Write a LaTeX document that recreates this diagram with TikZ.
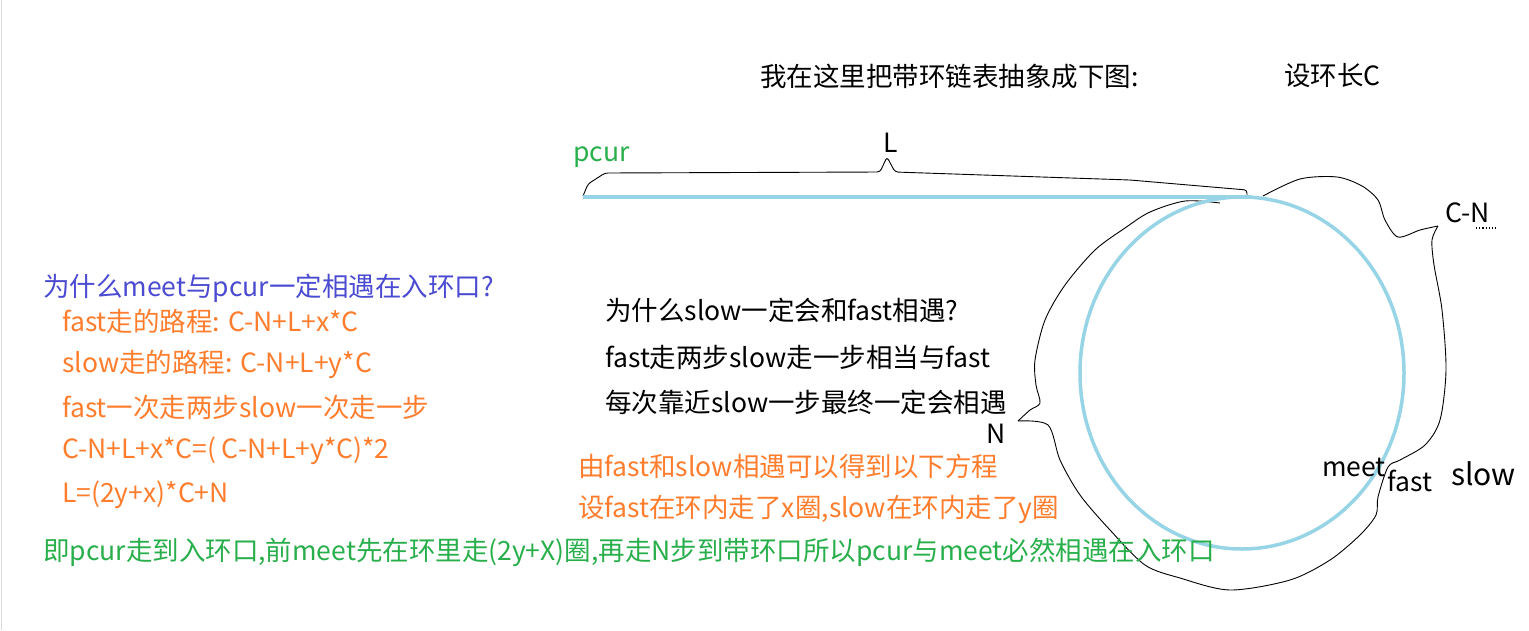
\documentclass[tikz,border=0pt]{standalone}
\usepackage{fontspec}
\setmainfont{Noto Sans CJK SC}
\begin{document}
\begin{tikzpicture}[x=1pt,y=-1pt,
  txt/.style={anchor=west,inner sep=0pt,font=\fontsize{26.5}{30}\selectfont},
  blk/.style={txt,text=black},
  org/.style={txt,text=orgc},
  grn/.style={txt,text=grnc},
  blu/.style={txt,text=bluc}]
\definecolor{orgc}{RGB}{255,125,45}
\definecolor{grnc}{RGB}{40,175,75}
\definecolor{bluc}{RGB}{75,75,210}
\definecolor{ringc}{RGB}{150,212,230}
\useasboundingbox (0,0) rectangle (1529,630);
\draw[gray!30] (1,0) -- (1,630);
% outline
\draw[black,line width=0.9pt,rounded corners=3pt]
 (583,196) -- (588,184) -- (605,173) -- (880,172) -- (887,157) -- (895,172) -- (1130,180) -- (1200,186) -- (1247,190) -- (1247,198);
\draw[black,line width=0.9pt,smooth] plot coordinates{
 (1263,196) (1300,179) (1337,177) (1362,186) (1378,200) (1385,220) (1398,237) (1420,230) (1438,226)};
\draw[black,line width=0.9pt,smooth] plot coordinates{
 (1438,226) (1432,240) (1434,265) (1442,310) (1446,370) (1440,420) (1425,445) (1400,460) (1388,467) (1378,497) (1376,515) (1360,535) (1330,560) (1290,580) (1230,590) (1180,578) (1145,565) (1110,530) (1080,495) (1060,460) (1048,425) (1018,421)};
\draw[black,line width=0.9pt,smooth] plot coordinates{
 (1018,421) (1030,410) (1040,403) (1036,385) (1035,360) (1045,320) (1065,285) (1095,250) (1125,228) (1150,212) (1185,201) (1220,203)};
% blue
\draw[ringc,line width=3.5pt] (583,197) -- (1252,197);
\draw[ringc,line width=3.5pt] (1242,373) ellipse [x radius=162, y radius=176];
% texts
\node[blk] (t1) at (760,76) {我在这里把带环链表抽象成下图:};
\node[blk] (t2) at (1284,76) {设环长C};
\node[grn] (pc) at (573,157) {pcur};
\node[blk] (L) at (883,143) {L};
\node[blk] (cn) at (1445,213) {C-N};
\draw[black,dotted,line width=1.2pt] (1476,228) -- (1497,228);
\node[blu] (q1) at (43,288) {为什么meet与pcur一定相遇在入环口?};
\node[org] (o1) at (62,321) {fast走的路程:  C-N+L+x*C};
\node[org] (o2) at (62,364) {slow走的路程: C-N+L+y*C};
\node[org] (o3) at (62,407) {fast一次走两步slow一次走一步};
\node[org] (o4) at (62,451) {C-N+L+x*C=( C-N+L+y*C)*2};
\node[org] (o5) at (62,495) {L=(2y+x)*C+N};
\node[blk] (b1) at (605,310) {为什么slow一定会和fast相遇?};
\node[blk] (b2) at (605,357) {fast走两步slow走一步相当与fast};
\node[blk] (b3) at (605,402) {每次靠近slow一步最终一定会相遇};
\node[blk] (N) at (986,434) {N};
\node[org] (o6) at (578,466) {由fast和slow相遇可以得到以下方程};
\node[org] (o7) at (578,509) {设fast在环内走了x圈,slow在环内走了y圈};
\node[grn] (g1) at (43,552) {即pcur走到入环口,前meet先在环里走(2y+X)圈,再走N步到带环口所以pcur与meet必然相遇在入环口};
\node[blk] (m) at (1322,467) {meet};
\node[blk] (f) at (1387,481) {fast};
\node[blk,font=\fontsize{30}{33}\selectfont] (s) at (1451,474) {slow};
\end{tikzpicture}
\end{document}
